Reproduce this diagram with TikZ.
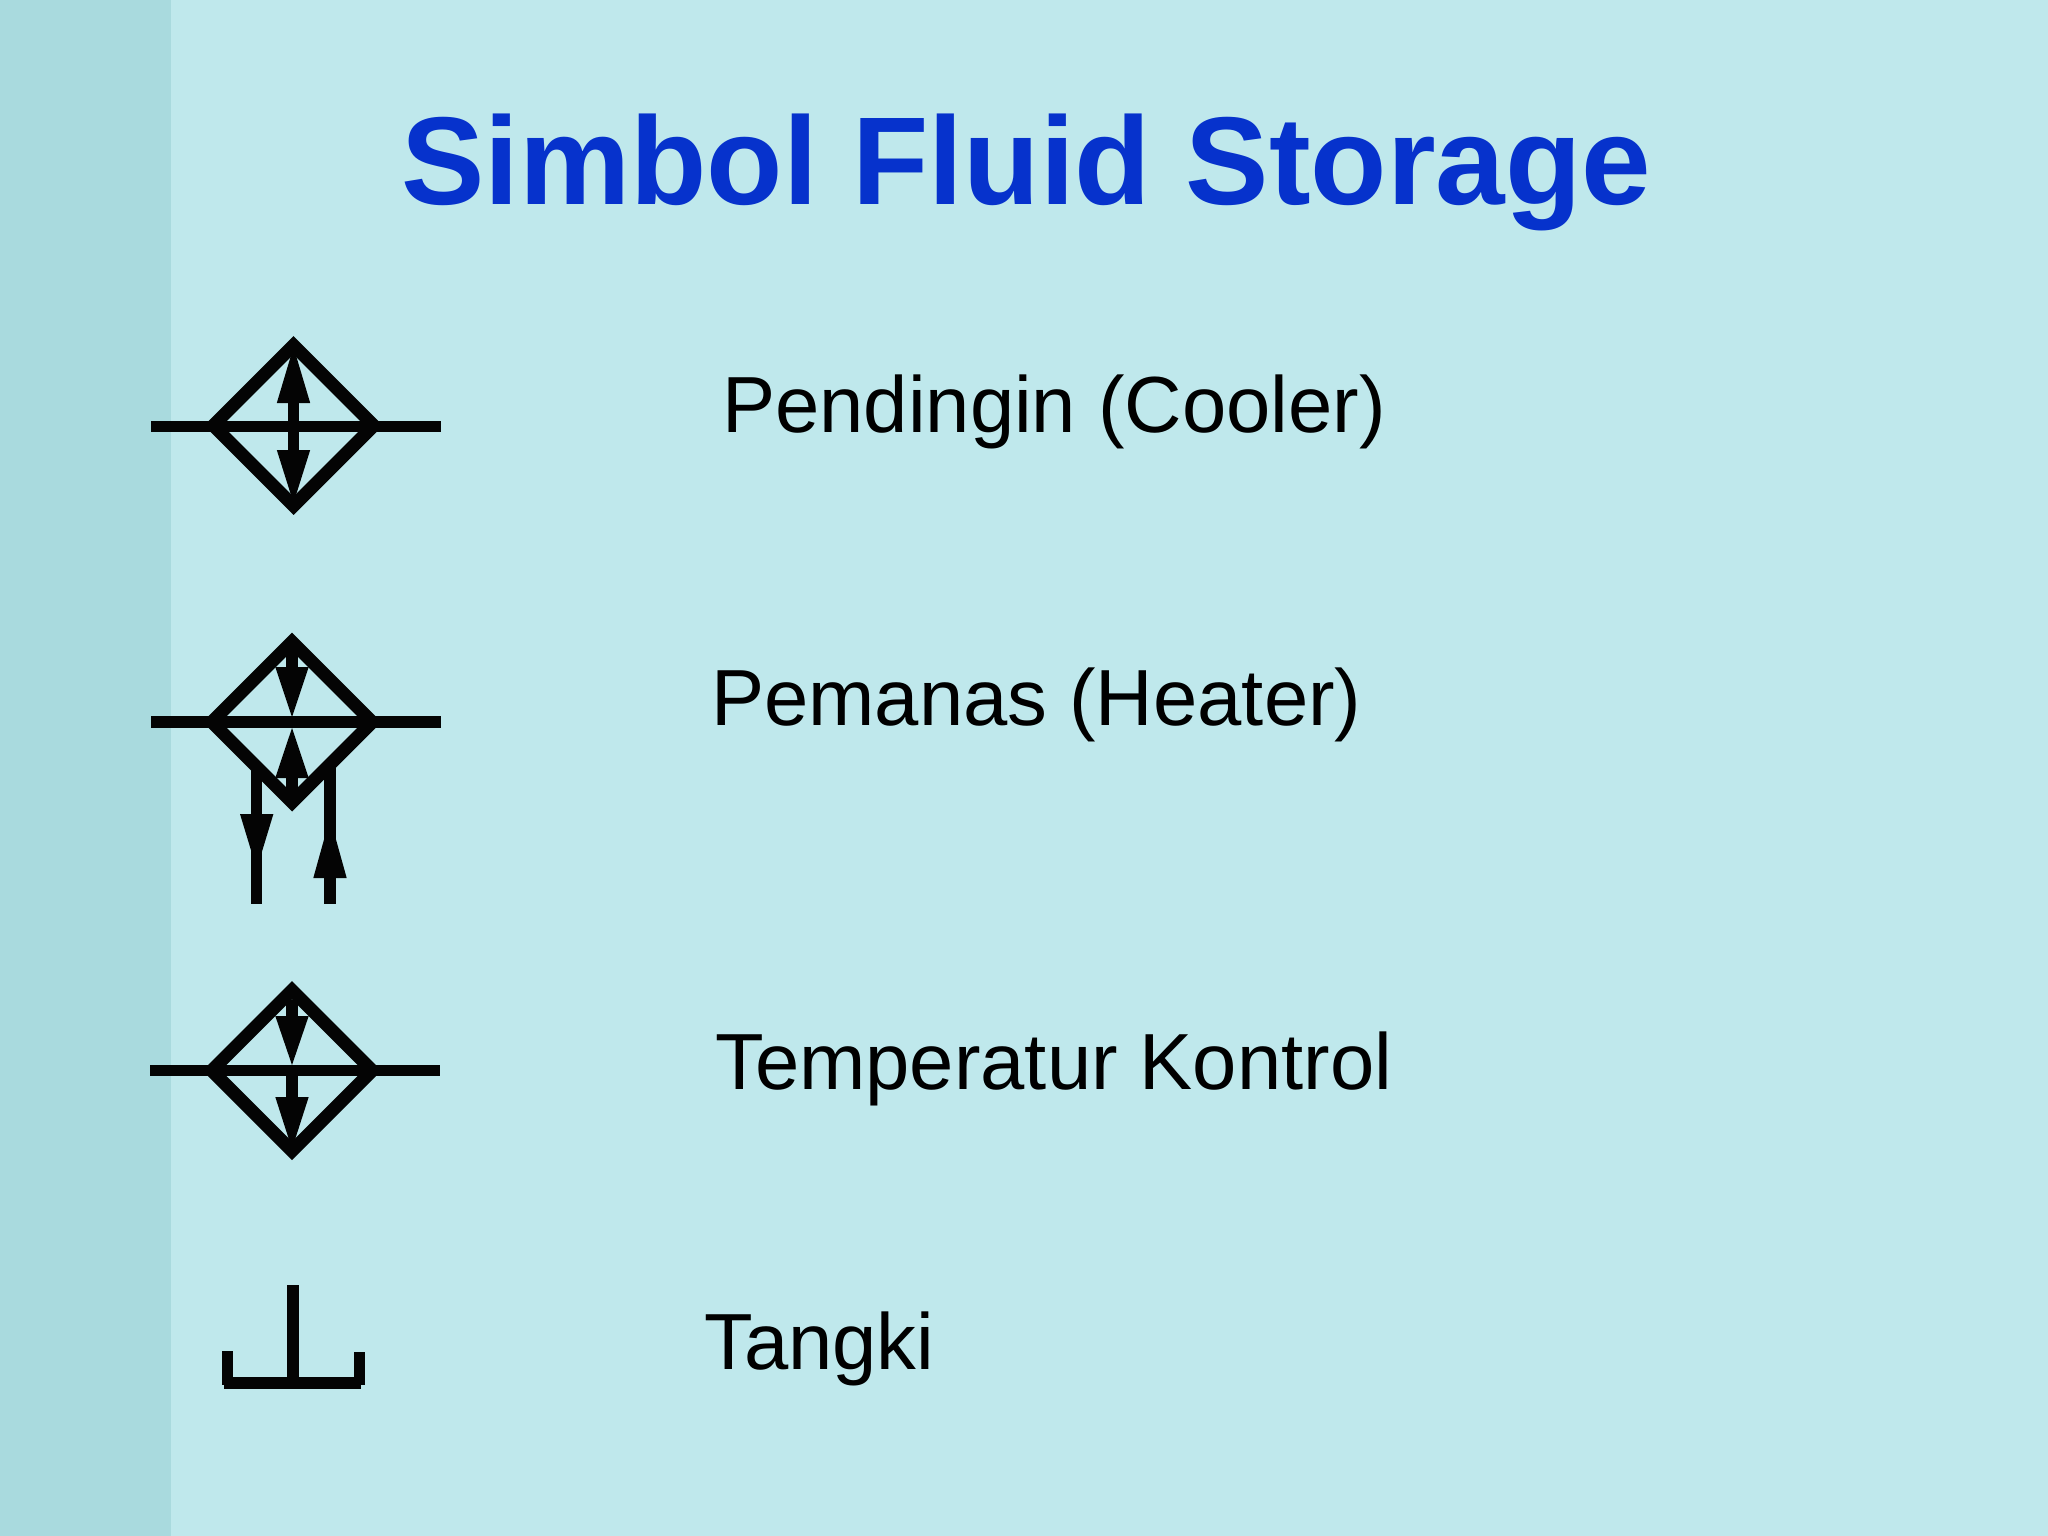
\documentclass[tikz,border=0pt]{standalone}
\usepackage{fontspec}
\setmainfont{Liberation Sans}
\definecolor{bgmain}{HTML}{BFE8EC}
\definecolor{bgband}{HTML}{A9DADE}
\definecolor{titleblue}{HTML}{0632CC}
\definecolor{symk}{HTML}{040404}
\newcommand{\symhead}[3]{\fill[symk] (#1-16.7,#3) -- (#1+16.7,#3) -- (#1,#2) -- cycle;}
\newcommand{\symdiamond}[2]{\draw[symline,line width=13pt,miter limit=10] (#1,#2-80.3) -- (#1+80.3,#2) -- (#1,#2+80.3) -- (#1-80.3,#2) -- cycle;}
\tikzset{
  symline/.style={draw=symk,line width=11.5pt,line cap=butt,line join=miter},
  title text/.style={anchor=base west,text=titleblue,font=\fontsize{125}{125}\selectfont\bfseries,inner sep=0pt},
  label text/.style={anchor=base west,text=black,font=\fontsize{79.6}{80}\selectfont,inner sep=0pt}
}
\begin{document}
\begin{tikzpicture}[x=1pt,y=-1pt]
\useasboundingbox (0,0) rectangle (2048,1536);
\fill[bgmain] (0,0) rectangle (2048,1536);
\fill[bgband] (0,0) rectangle (171,1536);
\node[title text] (title) at (401,204) {Simbol Fluid Storage};
\node[label text] (cooler) at (722,432) {Pendingin (Cooler)};
\node[label text] (heater) at (711,725) {Pemanas (Heater)};
\node[label text] (kontrol) at (715,1089) {Temperatur Kontrol};
\node[label text] (tangki) at (704,1369) {Tangki};
% cooler
\symdiamond{293.5}{425.5}
\draw[symline] (151,426.3) -- (441,426.3);
\draw[symline] (293.5,395) -- (293.5,460);
\symhead{293.5}{347}{403}
\symhead{293.5}{503}{450}
% heater
\symdiamond{292}{722}
\draw[symline] (151,722) -- (441,722);
\draw[symline] (292,650) -- (292,675);
\draw[symline] (292,770) -- (292,795);
\symhead{292}{717}{667}
\symhead{292}{728}{778}
\draw[symline] (256.7,768) -- (256.7,904);
\draw[symline] (330,768) -- (330,904);
\symhead{256.7}{869}{814}
\symhead{330}{818}{878}
% temperature control
\symdiamond{292}{1070.5}
\draw[symline] (150,1070.7) -- (440,1070.7);
\draw[symline] (292,1000) -- (292,1025);
\draw[symline] (292,1070) -- (292,1105);
\symhead{292}{1065}{1016}
\symhead{292}{1149}{1097}
% tank
\draw[symline] (293,1285) -- (293,1380);
\draw[symline] (224,1382.8) -- (361,1382.8);
\draw[symline] (227.5,1351) -- (227.5,1385);
\draw[symline] (359.5,1352) -- (359.5,1385);
\end{tikzpicture}
\end{document}
